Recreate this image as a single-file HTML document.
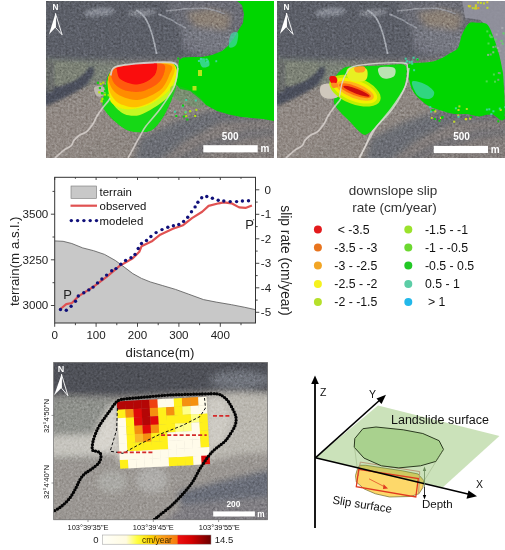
<!DOCTYPE html><html><head><meta charset="utf-8"><style>html,body{margin:0;padding:0;background:#fff;width:505px;height:550px;overflow:hidden;position:relative}</style></head><body><svg style="position:absolute;left:46px;top:1px" width="228" height="157" viewBox="0 0 228 157"><defs><filter id="bla" x="-10%" y="-10%" width="120%" height="120%"><feGaussianBlur stdDeviation="3.2"/></filter><filter id="bsa"><feGaussianBlur stdDeviation="0.7"/></filter><filter id="bma" x="-20%" y="-20%" width="140%" height="140%"><feGaussianBlur stdDeviation="1.4"/></filter><filter id="boa"><feGaussianBlur stdDeviation="0.45"/></filter><filter id="nza" x="0" y="0" width="100%" height="100%" color-interpolation-filters="sRGB"><feTurbulence type="fractalNoise" baseFrequency="0.45" numOctaves="2" seed="3"/><feColorMatrix type="matrix" values="0.33 0.33 0.33 0 0  0.33 0.33 0.33 0 0  0.33 0.33 0.33 0 0  0 0 0 0 1"/></filter></defs><rect x="0" y="0" width="228" height="157" fill="#8e8782"/><g filter="url(#bla)"><path d="M-5 -5 L233 -5 L233 40 L200 50 L185 56 L150 59 L120 60 L90 60 L40 60 L-5 60 Z" fill="#5b5f68"/><path d="M120 0 L150 -2 L233 -5 L233 35 L215 48 L195 55 L170 52 L145 42 L130 22 Z" fill="#6c6d76"/><path d="M140 12 L165 8 L185 14 L182 28 L165 30 L148 24 Z" fill="#8c8176"/><path d="M135 28 L165 26 L190 34 L188 52 L160 55 L138 50 Z" fill="#797a85" opacity=".8"/><path d="M-5 59 L40 60 L80 62 L110 68 L108 80 L80 80 L40 84 L-5 86 Z" fill="#7d8378"/><path d="M-5 108 L40 98 L70 92 L90 98 L85 125 L60 140 L20 157 L-5 160 Z" fill="#918984"/><path d="M88 162 L94 137 L130 120 L161 110 L233 105 L233 118 L175 122 L140 140 L112 162 Z" fill="#6c6e74"/><path d="M112 162 L140 140 L175 122 L233 118 L233 162 Z" fill="#847e7b"/><path d="M120 162 L160 140 L200 128 L233 126 L233 134 L200 138 L160 152 L140 162 Z" fill="#737276"/></g><path d="M-5 85 L14 85 L29 79 L38 72 L43 66 L48 66 L48 73 L41 84 L28 92 L14 99 L0 105 L-5 108 Z" fill="#4b505b" filter="url(#bma)"/><path d="M8 61 L40 62 L42 66 L37 72 L28 79 L14 84 L8 85 Z" fill="#7d8276" filter="url(#bma)"/><path d="M0 60 L8 61 L8 90 L0 92 Z" fill="#696c6a" filter="url(#bma)"/><g filter="url(#bma)" opacity=".8"><path d="M38 11 Q50 5 64 7 Q72 9 66 13 Q52 16 40 15 Z" fill="#91949e"/><path d="M82 11 Q95 6 110 9 Q112 13 100 15 Q88 16 82 14 Z" fill="#8a8d95"/></g><g filter="url(#bsa)"><path d="M90.3 9 Q96 12 99.3 17 Q104 25 106 33 Q109 44 110.6 53" stroke="#a6aab2" stroke-width="1.6" fill="none"/><path d="M112 13 Q125 18 134 24 L140 27" stroke="#9ea1aa" stroke-width="1.5" fill="none" opacity=".8"/><path d="M120.5 10 Q140 7 159 7.3 Q170 9 178.8 12.9" stroke="#9c9fa6" stroke-width="1.5" fill="none" opacity=".8"/><g stroke="#737680" stroke-width="1.2" fill="none" opacity=".3"><path d="M30 20 L40 55"/><path d="M50 18 L62 55"/><path d="M70 20 L80 56"/><path d="M84 22 L92 50"/><path d="M118 25 L128 50"/></g></g><rect x="0" y="0" width="228" height="157" filter="url(#nza)" opacity=".5" style="mix-blend-mode:overlay"/><g filter="url(#boa)"><path d="M61.1 77.2 C59.9 80.7 60.1 85.8 59.3 89.7 C58.6 93.5 57.0 97.4 56.7 100.3 C56.4 103.3 56.2 104.8 57.6 107.5 C58.9 110.1 61.7 113.4 64.7 116.4 C67.7 119.4 72.1 123.3 75.4 125.7 C78.7 128.0 81.0 129.4 84.3 130.3 C87.6 131.2 91.4 131.4 95.0 131.2 C98.6 131.0 102.4 131.1 105.7 129.2 C109.0 127.4 111.9 123.6 114.6 120.0 C117.3 116.3 119.7 111.6 121.7 107.5 C123.8 103.3 125.6 98.9 127.1 95.0 C128.6 91.1 129.8 88.2 130.6 84.3 C131.5 80.4 132.4 75.1 132.4 71.8 C132.4 68.6 131.8 66.3 130.6 64.7 C129.5 63.1 129.2 62.5 125.3 62.0 C121.4 61.6 113.4 61.9 107.5 62.0 C101.5 62.2 95.6 62.3 89.7 62.9 C83.7 63.5 75.7 64.7 71.8 65.6 C68.0 66.5 68.3 66.3 66.5 68.3 C64.7 70.2 62.3 73.6 61.1 77.2 Z" fill="#12d812"/><path d="M62.0 79.0 C61.4 83.1 61.9 88.9 62.9 93.2 C64.0 97.5 66.2 101.8 68.3 104.8 C70.3 107.8 73.0 109.8 75.4 111.4 C77.8 113.0 79.5 113.8 82.5 114.2 C85.5 114.7 89.1 115.4 93.2 114.2 C97.4 113.1 102.7 110.1 107.5 107.1 C112.2 104.1 118.2 99.9 121.7 96.4 C125.3 92.9 127.2 90.2 128.9 86.1 C130.5 82.0 132.1 75.8 131.5 71.8 C130.9 67.8 129.3 63.7 125.3 62.0 C121.3 60.4 113.4 61.9 107.5 62.0 C101.5 62.2 95.6 62.3 89.7 62.9 C83.7 63.5 75.7 64.7 71.8 65.6 C68.0 66.5 68.1 66.0 66.5 68.3 C64.8 70.5 62.6 74.8 62.0 79.0 Z" fill="#c4f820"/><path d="M62.0 79.0 C61.4 82.5 62.5 86.0 62.9 89.7 C63.4 93.3 62.9 97.9 64.7 100.7 C66.5 103.6 70.9 105.5 73.6 106.8 C76.3 108.0 77.8 108.1 80.7 108.2 C83.7 108.3 87.3 108.2 91.4 107.3 C95.6 106.3 100.9 105.0 105.7 102.5 C110.4 100.0 116.4 95.7 120.0 92.3 C123.5 89.0 125.3 86.2 127.1 82.5 C128.9 78.8 130.9 73.5 130.6 70.0 C130.4 66.6 129.2 63.4 125.3 62.0 C121.4 60.7 113.4 61.9 107.5 62.0 C101.5 62.2 95.6 62.3 89.7 62.9 C83.7 63.5 75.7 64.7 71.8 65.6 C68.0 66.5 68.1 66.0 66.5 68.3 C64.8 70.5 62.6 75.4 62.0 79.0 Z" fill="#f2f000"/><path d="M62.0 78.1 C61.4 81.5 61.6 85.0 62.9 88.8 C64.2 92.5 67.1 97.6 70.0 100.3 C73.0 103.1 77.2 104.2 80.7 105.2 C84.3 106.1 87.3 106.8 91.4 106.0 C95.6 105.3 101.2 103.3 105.7 100.7 C110.1 98.1 114.9 94.2 118.2 90.5 C121.4 86.9 123.5 82.7 125.3 79.0 C127.1 75.2 128.9 71.1 128.9 68.3 C128.9 65.4 128.9 63.1 125.3 62.0 C121.7 61.0 113.4 61.9 107.5 62.0 C101.5 62.2 95.6 62.3 89.7 62.9 C83.7 63.5 75.7 64.7 71.8 65.6 C68.0 66.5 68.1 66.2 66.5 68.3 C64.8 70.3 62.6 74.6 62.0 78.1 Z" fill="#ffbf00"/><path d="M62.9 75.4 C62.3 77.5 62.0 78.2 62.9 80.7 C63.8 83.3 65.6 87.9 68.3 90.5 C70.9 93.2 75.1 95.4 79.0 96.8 C82.8 98.2 87.3 99.2 91.4 98.9 C95.6 98.6 99.8 97.0 103.9 95.0 C108.1 93.0 113.1 90.5 116.4 87.0 C119.7 83.4 122.0 77.3 123.5 73.6 C125.0 69.9 128.0 66.6 125.3 64.7 C122.6 62.8 113.4 62.3 107.5 62.0 C101.5 61.7 95.6 62.3 89.7 62.9 C83.7 63.5 75.7 64.7 71.8 65.6 C68.0 66.5 68.0 66.6 66.5 68.3 C65.0 69.9 63.5 73.3 62.9 75.4 Z" fill="#ff8c00"/><path d="M64.7 71.8 C64.4 72.7 64.1 71.8 64.7 73.6 C65.3 75.4 66.2 80.0 68.3 82.5 C70.3 85.0 73.6 87.4 77.2 88.8 C80.7 90.2 85.8 90.8 89.7 90.9 C93.5 91.0 96.5 90.7 100.3 89.1 C104.2 87.6 109.9 84.5 112.8 81.6 C115.8 78.7 117.3 74.8 118.2 71.8 C119.1 68.9 120.0 65.4 118.2 63.8 C116.4 62.2 112.2 62.2 107.5 62.0 C102.7 61.9 95.6 62.3 89.7 62.9 C83.7 63.5 75.7 64.7 71.8 65.6 C68.0 66.5 67.7 67.2 66.5 68.3 C65.3 69.3 65.0 70.9 64.7 71.8 Z" fill="#ff5a0a"/><path d="M70.9 66.5 C67.8 67.4 70.6 66.6 70.9 68.3 C71.2 69.9 71.4 74.2 72.7 76.3 C74.1 78.4 76.1 79.5 79.0 80.7 C81.8 81.9 86.4 83.3 89.7 83.4 C92.9 83.6 95.7 82.8 98.6 81.6 C101.4 80.4 104.7 78.1 106.6 76.3 C108.5 74.5 109.4 73.2 110.1 70.9 C110.9 68.7 111.5 64.4 111.0 62.9 C110.6 61.4 111.0 62.0 107.5 62.0 C103.9 62.0 95.7 62.2 89.7 62.9 C83.6 63.7 74.1 65.6 70.9 66.5 Z" fill="#fa0808"/></g><path d="M64.7 74.5 C65.0 73.5 65.3 69.8 66.5 68.3 C67.7 66.7 68.0 66.0 71.8 65.1 C75.7 64.1 83.7 63.2 89.7 62.6 C95.6 62.0 101.5 61.7 107.5 61.5 C113.4 61.3 121.4 61.0 125.3 61.5 C129.2 62.0 129.8 62.6 131.0 64.3 C132.3 66.1 132.7 69.1 132.8 71.8 C132.9 74.6 131.7 79.3 131.5 80.7" fill="none" stroke="#d4d4d4" stroke-width="1.8" opacity=".9"/><path d="M190.0 -1.0 L196.0 4.0 L198.0 13.0 L197.0 22.0 L192.0 30.0 L188.0 37.0 L182.0 45.0 L176.0 50.0 L166.0 54.0 L156.0 56.0 L146.0 56.0 L137.0 56.5 L133.0 59.0 L132.5 63.0 L132.0 74.0 L130.0 83.0 L134.0 88.0 L144.0 90.0 L154.0 98.0 L160.0 104.0 L171.0 110.0 L183.0 113.5 L194.0 115.8 L206.0 117.0 L217.0 118.0 L228.0 120.0 L228.0 -1.0 Z" fill="#00d600" filter="url(#boa)"/><path d="M126.0 85.0 C129.0 84.0 138.7 86.3 144.0 89.0 C149.3 91.7 156.3 98.0 158.0 101.0 C159.7 104.0 157.2 106.7 154.0 107.0 C150.8 107.3 143.7 105.0 139.0 103.0 C134.3 101.0 128.2 98.0 126.0 95.0 C123.8 92.0 123.0 86.0 126.0 85.0 Z" fill="#50a050" opacity=".3" filter="url(#boa)"/><path d="M154.0 58.0 C155.0 56.8 160.5 57.3 162.0 58.5 C163.5 59.7 164.0 63.8 163.0 65.0 C162.0 66.2 157.5 67.2 156.0 66.0 C154.5 64.8 153.0 59.2 154.0 58.0 Z" fill="#40d8a8" opacity=".8" filter="url(#boa)"/><path d="M185.0 33.0 C186.5 30.7 191.2 30.2 192.0 32.0 C192.8 33.8 191.5 41.7 190.0 44.0 C188.5 46.3 183.8 47.8 183.0 46.0 C182.2 44.2 183.5 35.3 185.0 33.0 Z" fill="#40d8a8" opacity=".7" filter="url(#boa)"/><g fill="#d8e820" opacity=".85"><rect x="152" y="69" width="4" height="6"/><rect x="146.5" y="85" width="4" height="4.5"/></g><path d="M48.0 87.0 C48.5 85.3 52.0 84.8 54.0 85.0 C56.0 85.2 59.3 86.5 60.0 88.0 C60.7 89.5 59.5 92.8 58.0 94.0 C56.5 95.2 52.7 96.2 51.0 95.0 C49.3 93.8 47.5 88.7 48.0 87.0 Z" fill="#c8c4b8" opacity=".8" filter="url(#boa)"/><g opacity="0.9"><rect x="55.4" y="91.2" width="2.2" height="2.2" fill="#08d808"/><rect x="55.4" y="97.1" width="2.2" height="2.2" fill="#08d808"/><rect x="52.2" y="90.2" width="2.2" height="2.2" fill="#b8f000"/><rect x="57.4" y="83.7" width="2.2" height="2.2" fill="#08d808"/><rect x="53.6" y="81.8" width="2.2" height="2.2" fill="#b8f000"/><rect x="57.6" y="91.9" width="2.2" height="2.2" fill="#08d808"/><rect x="61.6" y="93.1" width="2.2" height="2.2" fill="#b8f000"/><rect x="57.8" y="92.5" width="2.2" height="2.2" fill="#b8f000"/><rect x="50.8" y="80.7" width="2.2" height="2.2" fill="#08d808"/><rect x="57.2" y="95.6" width="2.2" height="2.2" fill="#08d808"/><rect x="55.3" y="96.8" width="2.2" height="2.2" fill="#b8f000"/><rect x="52.8" y="85.9" width="2.2" height="2.2" fill="#08d808"/><rect x="57.9" y="89.1" width="2.2" height="2.2" fill="#08d808"/><rect x="54.9" y="91.0" width="2.2" height="2.2" fill="#08d808"/><rect x="58.5" y="86.3" width="2.2" height="2.2" fill="#08d808"/><rect x="56.2" y="80.6" width="2.2" height="2.2" fill="#b8f000"/><rect x="59.2" y="88.0" width="2.2" height="2.2" fill="#08d808"/><rect x="54.6" y="99.2" width="2.2" height="2.2" fill="#b8f000"/></g><g opacity="0.9"><rect x="138.4" y="110.5" width="2.0" height="2.0" fill="#b8f000"/><rect x="135.7" y="104.4" width="2.0" height="2.0" fill="#40d8a8"/><rect x="138.6" y="110.2" width="2.0" height="2.0" fill="#40d8a8"/><rect x="143.2" y="109.2" width="2.0" height="2.0" fill="#b8f000"/><rect x="128.0" y="109.7" width="2.0" height="2.0" fill="#40d8a8"/><rect x="136.1" y="103.5" width="2.0" height="2.0" fill="#00d600"/><rect x="129.3" y="114.0" width="2.0" height="2.0" fill="#00d600"/><rect x="139.3" y="114.0" width="2.0" height="2.0" fill="#b8f000"/><rect x="136.9" y="114.5" width="2.0" height="2.0" fill="#00d600"/><rect x="148.2" y="114.0" width="2.0" height="2.0" fill="#b8f000"/><rect x="139.2" y="98.0" width="2.0" height="2.0" fill="#40d8a8"/><rect x="148.8" y="98.5" width="2.0" height="2.0" fill="#40d8a8"/><rect x="149.4" y="107.9" width="2.0" height="2.0" fill="#b8f000"/><rect x="140.3" y="117.5" width="2.0" height="2.0" fill="#00d600"/></g><g opacity="0.9"><rect x="141.7" y="58.7" width="2.0" height="2.0" fill="#00d600"/><rect x="159.3" y="58.7" width="2.0" height="2.0" fill="#00d600"/><rect x="158.8" y="56.7" width="2.0" height="2.0" fill="#00d600"/><rect x="153.9" y="56.9" width="2.0" height="2.0" fill="#40d8a8"/><rect x="131.3" y="56.5" width="2.0" height="2.0" fill="#00d600"/><rect x="174.7" y="59.3" width="2.0" height="2.0" fill="#00d600"/><rect x="169.2" y="59.2" width="2.0" height="2.0" fill="#40d8a8"/><rect x="167.2" y="59.0" width="2.0" height="2.0" fill="#00d600"/><rect x="165.7" y="57.0" width="2.0" height="2.0" fill="#00d600"/><rect x="151.9" y="59.0" width="2.0" height="2.0" fill="#40d8a8"/><rect x="160.2" y="59.6" width="2.0" height="2.0" fill="#40d8a8"/><rect x="159.5" y="57.4" width="2.0" height="2.0" fill="#40d8a8"/></g><path d="M64.0 97.0 C63.7 97.5 63.5 98.5 62.1 100.3 C60.7 102.1 57.7 105.4 55.8 107.9 C53.9 110.4 52.2 113.0 50.7 115.5 C49.2 118.0 48.6 120.6 46.9 123.1 C45.2 125.6 42.9 128.8 40.6 130.7 C38.3 132.6 35.1 133.0 33.0 134.5 C30.9 136.0 29.2 137.9 27.9 139.6 C26.6 141.3 26.8 143.1 25.3 144.6 C23.8 146.1 21.1 146.9 19.0 148.4 C16.9 149.9 14.4 152.1 12.7 153.5 C11.0 154.9 9.6 156.4 9.0 157.0" fill="none" stroke="#dcd6d2" stroke-width="1.7" opacity=".8"/><path d="M132.0 67.0 C131.3 70.2 131.0 79.2 128.0 86.0 C125.0 92.8 118.7 101.5 114.0 108.0 C109.3 114.5 103.3 120.5 100.0 125.0 C96.7 129.5 96.0 131.5 94.0 135.0 C92.0 138.5 90.0 142.3 88.0 146.0 C86.0 149.7 83.0 155.2 82.0 157.0" fill="none" stroke="#dcd6d2" stroke-width="1.6" opacity=".8"/><text x="9.5" y="9.3" font-family='Liberation Sans' font-size="8.2" font-weight="bold" fill="#fff" text-anchor="middle">N</text><path d="M9.5 12.5 L2.9 33.5 L9.5 26.5 Z" fill="#fff"/><path d="M9.5 12.5 L16.1 33.8 L9.5 26.5 Z" fill="none" stroke="#fff" stroke-width="0.9"/><rect x="157.3" y="144.2" width="54.4" height="7.2" fill="#fff"/><text x="184.2" y="139.3" font-family='Liberation Sans' font-size="10" font-weight="bold" fill="#fff" text-anchor="middle">500</text><text x="214.5" y="151.2" font-family='Liberation Sans' font-size="10" font-weight="bold" fill="#fff">m</text></svg><svg style="position:absolute;left:277px;top:1.3px" width="228" height="157" viewBox="0 0 228 157"><defs><filter id="blb" x="-10%" y="-10%" width="120%" height="120%"><feGaussianBlur stdDeviation="3.2"/></filter><filter id="bsb"><feGaussianBlur stdDeviation="0.7"/></filter><filter id="bmb" x="-20%" y="-20%" width="140%" height="140%"><feGaussianBlur stdDeviation="1.4"/></filter><filter id="bob"><feGaussianBlur stdDeviation="0.45"/></filter><filter id="nzb" x="0" y="0" width="100%" height="100%" color-interpolation-filters="sRGB"><feTurbulence type="fractalNoise" baseFrequency="0.45" numOctaves="2" seed="3"/><feColorMatrix type="matrix" values="0.33 0.33 0.33 0 0  0.33 0.33 0.33 0 0  0.33 0.33 0.33 0 0  0 0 0 0 1"/></filter></defs><rect x="0" y="0" width="228" height="157" fill="#8e8782"/><g filter="url(#blb)"><path d="M-5 -5 L233 -5 L233 40 L200 50 L185 56 L150 59 L120 60 L90 60 L40 60 L-5 60 Z" fill="#5b5f68"/><path d="M120 0 L150 -2 L233 -5 L233 35 L215 48 L195 55 L170 52 L145 42 L130 22 Z" fill="#6c6d76"/><path d="M140 12 L165 8 L185 14 L182 28 L165 30 L148 24 Z" fill="#8c8176"/><path d="M135 28 L165 26 L190 34 L188 52 L160 55 L138 50 Z" fill="#797a85" opacity=".8"/><path d="M-5 59 L40 60 L80 62 L110 68 L108 80 L80 80 L40 84 L-5 86 Z" fill="#7d8378"/><path d="M-5 108 L40 98 L70 92 L90 98 L85 125 L60 140 L20 157 L-5 160 Z" fill="#918984"/><path d="M88 162 L94 137 L130 120 L161 110 L233 105 L233 118 L175 122 L140 140 L112 162 Z" fill="#6c6e74"/><path d="M112 162 L140 140 L175 122 L233 118 L233 162 Z" fill="#847e7b"/><path d="M120 162 L160 140 L200 128 L233 126 L233 134 L200 138 L160 152 L140 162 Z" fill="#737276"/></g><path d="M-5 85 L14 85 L29 79 L38 72 L43 66 L48 66 L48 73 L41 84 L28 92 L14 99 L0 105 L-5 108 Z" fill="#4b505b" filter="url(#bmb)"/><path d="M8 61 L40 62 L42 66 L37 72 L28 79 L14 84 L8 85 Z" fill="#7d8276" filter="url(#bmb)"/><path d="M0 60 L8 61 L8 90 L0 92 Z" fill="#696c6a" filter="url(#bmb)"/><g filter="url(#bmb)" opacity=".8"><path d="M38 11 Q50 5 64 7 Q72 9 66 13 Q52 16 40 15 Z" fill="#91949e"/><path d="M82 11 Q95 6 110 9 Q112 13 100 15 Q88 16 82 14 Z" fill="#8a8d95"/></g><g filter="url(#bsb)"><path d="M90.3 9 Q96 12 99.3 17 Q104 25 106 33 Q109 44 110.6 53" stroke="#a6aab2" stroke-width="1.6" fill="none"/><path d="M112 13 Q125 18 134 24 L140 27" stroke="#9ea1aa" stroke-width="1.5" fill="none" opacity=".8"/><path d="M120.5 10 Q140 7 159 7.3 Q170 9 178.8 12.9" stroke="#9c9fa6" stroke-width="1.5" fill="none" opacity=".8"/><g stroke="#737680" stroke-width="1.2" fill="none" opacity=".3"><path d="M30 20 L40 55"/><path d="M50 18 L62 55"/><path d="M70 20 L80 56"/><path d="M84 22 L92 50"/><path d="M118 25 L128 50"/></g></g><rect x="0" y="0" width="228" height="157" filter="url(#nzb)" opacity=".5" style="mix-blend-mode:overlay"/><path d="M185.0 -1.3 L228.0 -1.3 L228.0 88.7 L221.0 58.7 L213.0 28.7 L203.0 18.7 L188.0 16.7 Z" fill="#9696a2" opacity=".85" filter="url(#bob)"/><path d="M192.0 22.2 C194.5 20.2 197.3 21.7 200.0 21.7 C202.7 21.7 206.0 21.5 208.0 22.2 C210.0 22.9 210.8 23.8 212.0 25.7 C213.2 27.6 214.3 30.8 215.5 33.7 C216.7 36.6 217.8 39.7 219.0 43.3 C220.2 46.9 221.5 51.2 222.5 55.1 C223.5 59.0 224.3 63.0 225.0 66.9 C225.7 70.8 226.2 70.2 226.5 78.7 C226.8 87.2 229.0 112.0 227.0 117.7 C225.0 123.4 218.6 113.4 214.4 113.0 C210.2 112.6 206.1 115.4 202.0 115.4 C197.9 115.4 193.7 113.4 189.6 113.0 C185.5 112.6 181.0 113.4 177.3 113.0 C173.6 112.6 171.5 111.8 167.4 110.5 C163.3 109.2 156.6 107.6 152.5 105.5 C148.4 103.4 145.5 101.0 142.6 98.1 C139.7 95.2 136.8 91.9 135.0 88.2 C133.2 84.5 132.2 79.0 131.5 75.7 C130.8 72.5 130.2 70.9 130.5 68.7 C130.8 66.5 128.6 64.1 133.0 62.7 C137.4 61.3 150.3 62.0 157.0 60.2 C163.7 58.5 169.0 54.5 173.0 52.2 C177.0 50.0 179.0 49.8 181.0 46.7 C183.0 43.6 183.2 37.8 185.0 33.7 C186.8 29.6 189.5 24.2 192.0 22.2 Z" fill="#00d600" filter="url(#bob)"/><g opacity="0.75"><rect x="220.8" y="71.0" width="2.0" height="2.0" fill="#9a9aa2"/><rect x="211.9" y="33.4" width="2.0" height="2.0" fill="#9a9aa2"/><rect x="220.1" y="29.1" width="2.0" height="2.0" fill="#9a9aa2"/><rect x="222.5" y="39.9" width="2.0" height="2.0" fill="#9a9aa2"/><rect x="215.9" y="72.5" width="2.0" height="2.0" fill="#60e060"/><rect x="210.1" y="52.9" width="2.0" height="2.0" fill="#b0b0b4"/><rect x="221.3" y="48.9" width="2.0" height="2.0" fill="#b0b0b4"/><rect x="217.0" y="79.7" width="2.0" height="2.0" fill="#60e060"/><rect x="221.7" y="71.2" width="2.0" height="2.0" fill="#9a9aa2"/><rect x="220.3" y="77.8" width="2.0" height="2.0" fill="#9a9aa2"/><rect x="217.8" y="44.6" width="2.0" height="2.0" fill="#9a9aa2"/><rect x="224.6" y="41.7" width="2.0" height="2.0" fill="#60e060"/><rect x="209.3" y="29.4" width="2.0" height="2.0" fill="#60e060"/><rect x="218.7" y="32.6" width="2.0" height="2.0" fill="#b0b0b4"/><rect x="223.5" y="38.9" width="2.0" height="2.0" fill="#60e060"/><rect x="212.9" y="35.1" width="2.0" height="2.0" fill="#60e060"/><rect x="216.9" y="32.6" width="2.0" height="2.0" fill="#9a9aa2"/><rect x="213.8" y="35.1" width="2.0" height="2.0" fill="#60e060"/><rect x="225.5" y="31.4" width="2.0" height="2.0" fill="#60e060"/><rect x="212.7" y="52.5" width="2.0" height="2.0" fill="#9a9aa2"/><rect x="217.6" y="37.6" width="2.0" height="2.0" fill="#60e060"/><rect x="210.5" y="41.5" width="2.0" height="2.0" fill="#60e060"/><rect x="219.7" y="45.9" width="2.0" height="2.0" fill="#b0b0b4"/><rect x="215.3" y="50.3" width="2.0" height="2.0" fill="#b0b0b4"/><rect x="212.5" y="34.4" width="2.0" height="2.0" fill="#60e060"/><rect x="222.9" y="43.1" width="2.0" height="2.0" fill="#9a9aa2"/><rect x="224.3" y="25.9" width="2.0" height="2.0" fill="#b0b0b4"/><rect x="220.7" y="48.6" width="2.0" height="2.0" fill="#9a9aa2"/><rect x="208.7" y="79.4" width="2.0" height="2.0" fill="#60e060"/><rect x="215.4" y="45.1" width="2.0" height="2.0" fill="#b0b0b4"/></g><path d="M135.0 80.7 C136.0 78.7 143.3 81.0 147.0 82.7 C150.7 84.4 156.0 88.2 157.0 90.7 C158.0 93.2 155.7 97.0 153.0 97.7 C150.3 98.4 144.0 97.5 141.0 94.7 C138.0 91.9 134.0 82.7 135.0 80.7 Z" fill="#3cd6a0" opacity=".8" filter="url(#bob)"/><g opacity="0.9"><rect x="164.5" y="115.0" width="2.0" height="2.0" fill="#00d600"/><rect x="188.4" y="107.5" width="2.0" height="2.0" fill="#00d600"/><rect x="213.4" y="112.2" width="2.0" height="2.0" fill="#40d8a8"/><rect x="192.1" y="116.6" width="2.0" height="2.0" fill="#c8e020"/><rect x="180.2" y="113.4" width="2.0" height="2.0" fill="#c8e020"/><rect x="163.0" y="116.0" width="2.0" height="2.0" fill="#e0e020"/><rect x="204.7" y="111.0" width="2.0" height="2.0" fill="#00d600"/><rect x="198.8" y="104.5" width="2.0" height="2.0" fill="#00d600"/><rect x="193.1" y="115.1" width="2.0" height="2.0" fill="#00d600"/><rect x="153.8" y="115.9" width="2.0" height="2.0" fill="#c8e020"/><rect x="161.5" y="118.8" width="2.0" height="2.0" fill="#00d600"/><rect x="164.2" y="115.7" width="2.0" height="2.0" fill="#00d600"/><rect x="188.8" y="107.0" width="2.0" height="2.0" fill="#c8e020"/><rect x="187.7" y="117.1" width="2.0" height="2.0" fill="#c8e020"/><rect x="211.3" y="107.3" width="2.0" height="2.0" fill="#40d8a8"/><rect x="227.2" y="105.1" width="2.0" height="2.0" fill="#40d8a8"/><rect x="188.2" y="117.2" width="2.0" height="2.0" fill="#e0e020"/><rect x="177.9" y="106.3" width="2.0" height="2.0" fill="#40d8a8"/><rect x="183.1" y="109.8" width="2.0" height="2.0" fill="#00d600"/><rect x="190.1" y="109.1" width="2.0" height="2.0" fill="#00d600"/><rect x="181.4" y="104.4" width="2.0" height="2.0" fill="#c8e020"/><rect x="164.1" y="115.5" width="2.0" height="2.0" fill="#00d600"/><rect x="152.2" y="105.1" width="2.0" height="2.0" fill="#40d8a8"/><rect x="208.9" y="107.6" width="2.0" height="2.0" fill="#40d8a8"/><rect x="176.2" y="119.7" width="2.0" height="2.0" fill="#c8e020"/><rect x="165.7" y="106.7" width="2.0" height="2.0" fill="#00d600"/><rect x="215.4" y="109.3" width="2.0" height="2.0" fill="#40d8a8"/><rect x="222.7" y="107.9" width="2.0" height="2.0" fill="#e0e020"/><rect x="157.0" y="117.0" width="2.0" height="2.0" fill="#00d600"/><rect x="180.5" y="114.9" width="2.0" height="2.0" fill="#40d8a8"/><rect x="220.3" y="119.3" width="2.0" height="2.0" fill="#00d600"/><rect x="221.8" y="106.6" width="2.0" height="2.0" fill="#40d8a8"/><rect x="153.1" y="109.5" width="2.0" height="2.0" fill="#40d8a8"/><rect x="180.5" y="108.0" width="2.0" height="2.0" fill="#e0e020"/><rect x="164.3" y="105.1" width="2.0" height="2.0" fill="#00d600"/><rect x="210.8" y="111.7" width="2.0" height="2.0" fill="#00d600"/><rect x="156.0" y="108.1" width="2.0" height="2.0" fill="#00d600"/><rect x="154.6" y="108.0" width="2.0" height="2.0" fill="#00d600"/><rect x="157.3" y="109.4" width="2.0" height="2.0" fill="#e0e020"/><rect x="226.7" y="115.9" width="2.0" height="2.0" fill="#00d600"/></g><g opacity="0.9"><rect x="139.4" y="57.1" width="2.0" height="2.0" fill="#40d8a8"/><rect x="134.2" y="61.7" width="2.0" height="2.0" fill="#40d8a8"/><rect x="136.1" y="68.2" width="2.0" height="2.0" fill="#40d8a8"/><rect x="128.5" y="69.4" width="2.0" height="2.0" fill="#00d600"/><rect x="139.6" y="57.7" width="2.0" height="2.0" fill="#00d600"/><rect x="135.6" y="55.7" width="2.0" height="2.0" fill="#40d8a8"/><rect x="133.8" y="59.7" width="2.0" height="2.0" fill="#40d8a8"/><rect x="127.7" y="56.7" width="2.0" height="2.0" fill="#40d8a8"/><rect x="135.5" y="64.2" width="2.0" height="2.0" fill="#00d600"/><rect x="127.8" y="60.9" width="2.0" height="2.0" fill="#40d8a8"/><rect x="129.2" y="59.1" width="2.0" height="2.0" fill="#40d8a8"/><rect x="131.5" y="60.1" width="2.0" height="2.0" fill="#40d8a8"/></g><path d="M67.3 66.7 C71.6 64.5 76.4 66.0 82.6 65.7 C88.8 65.4 97.2 65.0 104.4 64.6 C111.6 64.2 121.8 62.4 126.0 63.5 C130.2 64.6 129.4 66.6 129.4 71.1 C129.4 75.6 128.4 84.5 126.0 90.7 C123.6 96.9 119.0 102.8 115.0 108.2 C111.0 113.7 106.0 119.4 102.0 123.4 C98.0 127.4 94.1 130.6 91.3 132.2 C88.5 133.8 88.0 134.6 85.0 132.7 C82.0 130.8 76.7 124.4 73.0 120.7 C69.3 117.0 65.7 113.9 63.0 110.7 C60.3 107.5 57.7 105.0 57.0 101.7 C56.3 98.4 59.0 94.5 59.0 90.7 C59.0 86.9 55.6 82.7 57.0 78.7 C58.4 74.7 63.0 68.9 67.3 66.7 Z" fill="#08d808" filter="url(#bob)"/><path d="M44.0 84.7 C45.5 82.9 50.2 82.4 53.0 82.7 C55.8 83.0 59.7 84.5 61.0 86.7 C62.3 88.9 62.7 93.9 61.0 95.7 C59.3 97.5 53.8 98.0 51.0 97.7 C48.2 97.4 45.2 95.9 44.0 93.7 C42.8 91.5 42.5 86.5 44.0 84.7 Z" fill="#cfc8bc" filter="url(#bob)"/><g filter="url(#bob)"><ellipse cx="78.0" cy="89.7" rx="27.0" ry="13.5" fill="#bff000" transform="rotate(21 78.0 89.7)"/><ellipse cx="78.0" cy="89.7" rx="23.5" ry="10.5" fill="#f4f000" transform="rotate(21 78.0 89.7)"/><ellipse cx="78.0" cy="89.7" rx="20.0" ry="7.5" fill="#ffb21a" transform="rotate(21 78.0 89.7)"/><ellipse cx="78.0" cy="89.7" rx="17.0" ry="4.6" fill="#ff6a10" transform="rotate(21 78.0 89.7)"/><ellipse cx="79.5" cy="89.7" rx="14.0" ry="2.4" fill="#cc0a0a" transform="rotate(21 78.0 89.7)"/></g><path d="M70.7 67.7 C72.7 66.0 79.8 66.0 83.0 66.2 C86.2 66.4 89.0 66.6 90.0 68.7 C91.0 70.8 91.0 76.7 89.0 78.7 C87.0 80.7 81.0 81.0 78.0 80.7 C75.0 80.4 72.2 78.9 71.0 76.7 C69.8 74.5 68.7 69.5 70.7 67.7 Z" fill="#e8f020" filter="url(#bob)"/><path d="M77.7 66.2 C79.1 65.3 85.8 65.0 87.4 65.7 C88.9 66.5 88.4 69.8 87.0 70.7 C85.6 71.6 80.5 72.0 79.0 71.2 C77.5 70.5 76.3 67.1 77.7 66.2 Z" fill="#ffa020" filter="url(#bob)"/><path d="M52.7 75.7 C53.4 74.6 56.7 74.8 58.0 75.3 C59.3 75.8 60.1 77.5 60.3 78.7 C60.5 79.9 60.1 81.8 59.0 82.3 C57.9 82.8 55.1 82.8 54.0 81.7 C52.9 80.6 52.0 76.8 52.7 75.7 Z" fill="#f01010" filter="url(#bob)"/><path d="M54.0 82.2 C54.7 81.5 58.8 81.7 60.0 82.3 C61.2 82.9 61.7 85.0 61.0 85.7 C60.3 86.4 57.2 87.3 56.0 86.7 C54.8 86.1 53.3 82.9 54.0 82.2 Z" fill="#ff8a20" filter="url(#bob)"/><path d="M102.0 66.7 C104.3 65.4 114.4 65.4 117.0 66.7 C119.6 68.0 118.7 72.9 117.4 74.7 C116.1 76.5 111.4 77.7 109.0 77.7 C106.6 77.7 104.2 76.5 103.0 74.7 C101.8 72.9 99.7 68.0 102.0 66.7 Z" fill="#e6e6dc" opacity=".8" filter="url(#bob)"/><path d="M62.5 95.7 C62.9 93.4 63.9 85.9 65.1 82.0 C66.3 78.1 67.7 74.9 69.5 72.2 C71.3 69.5 70.9 67.3 76.0 65.7 C81.1 64.1 91.6 63.0 100.0 62.4 C108.4 61.8 121.0 61.3 126.1 62.0 C131.2 62.7 130.1 63.0 130.5 66.7 C130.9 70.4 131.3 77.3 128.8 84.2 C126.3 91.1 120.8 100.6 115.3 108.2 C109.8 115.8 100.0 124.1 95.6 130.0 C91.2 135.9 91.2 139.2 89.1 143.7 C87.0 148.1 84.0 154.5 83.0 156.7" fill="none" stroke="#d8d8d0" stroke-width="1.3" opacity=".9"/><g opacity="0.9"><rect x="198.3" y="6.5" width="2.0" height="2.0" fill="#e0d020"/><rect x="194.7" y="6.1" width="2.0" height="2.0" fill="#c8e020"/><rect x="200.4" y="6.0" width="2.0" height="2.0" fill="#f0a020"/><rect x="190.8" y="4.0" width="2.0" height="2.0" fill="#e0d020"/><rect x="202.9" y="0.9" width="2.0" height="2.0" fill="#c8e020"/><rect x="206.0" y="1.4" width="2.0" height="2.0" fill="#c8e020"/><rect x="196.9" y="6.4" width="2.0" height="2.0" fill="#c8e020"/><rect x="197.9" y="3.3" width="2.0" height="2.0" fill="#e0d020"/><rect x="209.4" y="5.8" width="2.0" height="2.0" fill="#c8e020"/><rect x="192.2" y="4.1" width="2.0" height="2.0" fill="#f0a020"/><rect x="197.8" y="4.7" width="2.0" height="2.0" fill="#c8e020"/><rect x="200.1" y="0.5" width="2.0" height="2.0" fill="#c8e020"/><rect x="191.5" y="4.5" width="2.0" height="2.0" fill="#c8e020"/><rect x="209.3" y="0.3" width="2.0" height="2.0" fill="#e0d020"/></g><path d="M64.0 97.0 C63.7 97.5 63.5 98.5 62.1 100.3 C60.7 102.1 57.7 105.4 55.8 107.9 C53.9 110.4 52.2 113.0 50.7 115.5 C49.2 118.0 48.6 120.6 46.9 123.1 C45.2 125.6 42.9 128.8 40.6 130.7 C38.3 132.6 35.1 133.0 33.0 134.5 C30.9 136.0 29.2 137.9 27.9 139.6 C26.6 141.3 26.8 143.1 25.3 144.6 C23.8 146.1 21.1 146.9 19.0 148.4 C16.9 149.9 14.4 152.1 12.7 153.5 C11.0 154.9 9.6 156.4 9.0 157.0" fill="none" stroke="#dcd6d2" stroke-width="1.7" opacity=".8"/><path d="M132.0 67.0 C131.3 70.2 131.0 79.2 128.0 86.0 C125.0 92.8 118.7 101.5 114.0 108.0 C109.3 114.5 103.3 120.5 100.0 125.0 C96.7 129.5 96.0 131.5 94.0 135.0 C92.0 138.5 90.0 142.3 88.0 146.0 C86.0 149.7 83.0 155.2 82.0 157.0" fill="none" stroke="#dcd6d2" stroke-width="1.6" opacity=".8"/><text x="9.5" y="8.9" font-family='Liberation Sans' font-size="8.2" font-weight="bold" fill="#fff" text-anchor="middle">N</text><path d="M9.5 12.1 L2.9 33.1 L9.5 26.1 Z" fill="#fff"/><path d="M9.5 12.1 L16.1 33.4 L9.5 26.1 Z" fill="none" stroke="#fff" stroke-width="0.9"/><rect x="156.7" y="144.9" width="54.3" height="7.2" fill="#fff"/><text x="184.5" y="139.3" font-family='Liberation Sans' font-size="10" font-weight="bold" fill="#fff" text-anchor="middle">500</text><text x="213.8" y="151.9" font-family='Liberation Sans' font-size="10" font-weight="bold" fill="#fff">m</text></svg><svg style="position:absolute;left:0;top:0" width="505" height="550" viewBox="0 0 505 550"><polygon points="54.8,240.9 63.1,241.3 71.8,243.5 82.7,247.9 93.6,250.7 104.5,254.4 115.4,260.5 124.1,267.0 132.8,273.6 141.5,278.4 150.2,281.9 162.7,285.6 175.5,289.4 188.2,294.0 203.5,299.6 216.2,302.1 231.5,304.7 244.2,307.2 255.3,309.6 255.3,323 54.8,323" fill="#c8c8c8"/><polyline points="54.8,240.9 63.1,241.3 71.8,243.5 82.7,247.9 93.6,250.7 104.5,254.4 115.4,260.5 124.1,267.0 132.8,273.6 141.5,278.4 150.2,281.9 162.7,285.6 175.5,289.4 188.2,294.0 203.5,299.6 216.2,302.1 231.5,304.7 244.2,307.2 255.3,309.6" fill="none" stroke="#555" stroke-width="0.8"/><polyline points="59.8,309.5 66.3,304.1 71.8,303.0 78.3,296.4 93.6,286.6 106.6,276.8 119.7,265.9 132.8,258.3 139.3,251.8 141.5,246.3 152.4,240.9 160.2,234.7 172.9,228.8 183.1,225.2 192.0,218.1 202.2,211.7 208.6,205.9 218.8,203.3 223.9,202.3 231.5,203.3 239.1,207.4 245.5,207.9 251.9,205.4" fill="none" stroke="#e05252" stroke-width="2.2" stroke-linejoin="round"/><circle cx="60.5" cy="309.5" r="1.7" fill="#10107a"/><circle cx="66.3" cy="310.2" r="1.7" fill="#10107a"/><circle cx="71.1" cy="306.3" r="1.7" fill="#10107a"/><circle cx="75.5" cy="301.2" r="1.7" fill="#10107a"/><circle cx="78.3" cy="296.0" r="1.7" fill="#10107a"/><circle cx="83.8" cy="292.7" r="1.7" fill="#10107a"/><circle cx="88.8" cy="289.9" r="1.7" fill="#10107a"/><circle cx="93.1" cy="287.1" r="1.7" fill="#10107a"/><circle cx="97.5" cy="282.9" r="1.7" fill="#10107a"/><circle cx="101.9" cy="279.0" r="1.7" fill="#10107a"/><circle cx="106.6" cy="275.1" r="1.7" fill="#10107a"/><circle cx="111.7" cy="270.7" r="1.7" fill="#10107a"/><circle cx="116.0" cy="268.6" r="1.7" fill="#10107a"/><circle cx="120.8" cy="264.2" r="1.7" fill="#10107a"/><circle cx="125.6" cy="260.5" r="1.7" fill="#10107a"/><circle cx="131.0" cy="257.7" r="1.7" fill="#10107a"/><circle cx="135.0" cy="254.4" r="1.7" fill="#10107a"/><circle cx="138.2" cy="248.5" r="1.7" fill="#10107a"/><circle cx="141.5" cy="243.5" r="1.7" fill="#10107a"/><circle cx="146.5" cy="240.5" r="1.7" fill="#10107a"/><circle cx="150.9" cy="236.5" r="1.7" fill="#10107a"/><circle cx="156.1" cy="232.6" r="1.7" fill="#10107a"/><circle cx="162.0" cy="229.6" r="1.7" fill="#10107a"/><circle cx="167.8" cy="227.3" r="1.7" fill="#10107a"/><circle cx="173.4" cy="225.7" r="1.7" fill="#10107a"/><circle cx="178.8" cy="224.5" r="1.7" fill="#10107a"/><circle cx="183.6" cy="221.4" r="1.7" fill="#10107a"/><circle cx="187.7" cy="217.3" r="1.7" fill="#10107a"/><circle cx="191.5" cy="211.7" r="1.7" fill="#10107a"/><circle cx="195.1" cy="206.9" r="1.7" fill="#10107a"/><circle cx="197.9" cy="202.3" r="1.7" fill="#10107a"/><circle cx="201.7" cy="197.7" r="1.7" fill="#10107a"/><circle cx="206.8" cy="196.5" r="1.7" fill="#10107a"/><circle cx="212.4" cy="198.2" r="1.7" fill="#10107a"/><circle cx="218.2" cy="200.3" r="1.7" fill="#10107a"/><circle cx="223.8" cy="201.0" r="1.7" fill="#10107a"/><circle cx="230.2" cy="201.6" r="1.7" fill="#10107a"/><circle cx="236.6" cy="201.6" r="1.7" fill="#10107a"/><circle cx="242.4" cy="201.0" r="1.7" fill="#10107a"/><circle cx="248.5" cy="200.8" r="1.7" fill="#10107a"/><rect x="54.7" y="177.3" width="200.8" height="145.7" fill="none" stroke="#333" stroke-width="1"/><line x1="54.7" y1="323" x2="54.7" y2="326.8" stroke="#333" stroke-width="0.9"/><line x1="54.7" y1="177.3" x2="54.7" y2="180.0" stroke="#333" stroke-width="0.9"/><text x="54.7" y="339.2" font-family='Liberation Sans' font-size="11.6" fill="#222" text-anchor="middle">0</text><line x1="75.4" y1="323" x2="75.4" y2="325.2" stroke="#333" stroke-width="0.9"/><line x1="75.4" y1="177.3" x2="75.4" y2="178.8" stroke="#333" stroke-width="0.9"/><line x1="96.1" y1="323" x2="96.1" y2="326.8" stroke="#333" stroke-width="0.9"/><line x1="96.1" y1="177.3" x2="96.1" y2="180.0" stroke="#333" stroke-width="0.9"/><text x="96.1" y="339.2" font-family='Liberation Sans' font-size="11.6" fill="#222" text-anchor="middle">100</text><line x1="116.8" y1="323" x2="116.8" y2="325.2" stroke="#333" stroke-width="0.9"/><line x1="116.8" y1="177.3" x2="116.8" y2="178.8" stroke="#333" stroke-width="0.9"/><line x1="137.5" y1="323" x2="137.5" y2="326.8" stroke="#333" stroke-width="0.9"/><line x1="137.5" y1="177.3" x2="137.5" y2="180.0" stroke="#333" stroke-width="0.9"/><text x="137.5" y="339.2" font-family='Liberation Sans' font-size="11.6" fill="#222" text-anchor="middle">200</text><line x1="158.2" y1="323" x2="158.2" y2="325.2" stroke="#333" stroke-width="0.9"/><line x1="158.2" y1="177.3" x2="158.2" y2="178.8" stroke="#333" stroke-width="0.9"/><line x1="178.9" y1="323" x2="178.9" y2="326.8" stroke="#333" stroke-width="0.9"/><line x1="178.9" y1="177.3" x2="178.9" y2="180.0" stroke="#333" stroke-width="0.9"/><text x="178.9" y="339.2" font-family='Liberation Sans' font-size="11.6" fill="#222" text-anchor="middle">300</text><line x1="199.6" y1="323" x2="199.6" y2="325.2" stroke="#333" stroke-width="0.9"/><line x1="199.6" y1="177.3" x2="199.6" y2="178.8" stroke="#333" stroke-width="0.9"/><line x1="220.3" y1="323" x2="220.3" y2="326.8" stroke="#333" stroke-width="0.9"/><line x1="220.3" y1="177.3" x2="220.3" y2="180.0" stroke="#333" stroke-width="0.9"/><text x="220.3" y="339.2" font-family='Liberation Sans' font-size="11.6" fill="#222" text-anchor="middle">400</text><line x1="241.0" y1="323" x2="241.0" y2="325.2" stroke="#333" stroke-width="0.9"/><line x1="241.0" y1="177.3" x2="241.0" y2="178.8" stroke="#333" stroke-width="0.9"/><line x1="54.7" y1="305.5" x2="50.9" y2="305.5" stroke="#333" stroke-width="0.9"/><text x="48.3" y="309.4" font-family='Liberation Sans' font-size="11.6" fill="#222" text-anchor="end">3000</text><line x1="54.7" y1="282.7" x2="52.5" y2="282.7" stroke="#333" stroke-width="0.9"/><line x1="54.7" y1="259.8" x2="50.9" y2="259.8" stroke="#333" stroke-width="0.9"/><text x="48.3" y="263.7" font-family='Liberation Sans' font-size="11.6" fill="#222" text-anchor="end">3250</text><line x1="54.7" y1="237.0" x2="52.5" y2="237.0" stroke="#333" stroke-width="0.9"/><line x1="54.7" y1="214.2" x2="50.9" y2="214.2" stroke="#333" stroke-width="0.9"/><text x="48.3" y="218.1" font-family='Liberation Sans' font-size="11.6" fill="#222" text-anchor="end">3500</text><line x1="54.7" y1="191.4" x2="52.5" y2="191.4" stroke="#333" stroke-width="0.9"/><line x1="255.5" y1="189.8" x2="259.3" y2="189.8" stroke="#333" stroke-width="0.9"/><text x="264.6" y="193.7" font-family='Liberation Sans' font-size="11.6" fill="#222">0</text><line x1="255.5" y1="202.1" x2="257.7" y2="202.1" stroke="#333" stroke-width="0.9"/><line x1="255.5" y1="214.3" x2="259.3" y2="214.3" stroke="#333" stroke-width="0.9"/><text x="260.8" y="218.2" font-family='Liberation Sans' font-size="11.6" fill="#222">-1</text><line x1="255.5" y1="226.6" x2="257.7" y2="226.6" stroke="#333" stroke-width="0.9"/><line x1="255.5" y1="238.8" x2="259.3" y2="238.8" stroke="#333" stroke-width="0.9"/><text x="260.8" y="242.7" font-family='Liberation Sans' font-size="11.6" fill="#222">-2</text><line x1="255.5" y1="251.1" x2="257.7" y2="251.1" stroke="#333" stroke-width="0.9"/><line x1="255.5" y1="263.3" x2="259.3" y2="263.3" stroke="#333" stroke-width="0.9"/><text x="260.8" y="267.2" font-family='Liberation Sans' font-size="11.6" fill="#222">-3</text><line x1="255.5" y1="275.6" x2="257.7" y2="275.6" stroke="#333" stroke-width="0.9"/><line x1="255.5" y1="287.8" x2="259.3" y2="287.8" stroke="#333" stroke-width="0.9"/><text x="260.8" y="291.7" font-family='Liberation Sans' font-size="11.6" fill="#222">-4</text><line x1="255.5" y1="300.1" x2="257.7" y2="300.1" stroke="#333" stroke-width="0.9"/><line x1="255.5" y1="312.3" x2="259.3" y2="312.3" stroke="#333" stroke-width="0.9"/><text x="260.8" y="316.2" font-family='Liberation Sans' font-size="11.6" fill="#222">-5</text><text x="160" y="357" font-family='Liberation Sans' font-size="13.2" fill="#222" text-anchor="middle">distance(m)</text><text transform="translate(18.6,261.3) rotate(-90)" font-family='Liberation Sans' font-size="13.3" fill="#222" text-anchor="middle">terrain(m a.s.l.)</text><text transform="translate(281,205.3) rotate(90)" font-family='Liberation Sans' font-size="13.8" fill="#222">slip rate (cm/year)</text><rect x="71" y="186" width="25.6" height="12.4" fill="#c8c8c8" stroke="#777" stroke-width="0.6"/><line x1="70.5" y1="205.7" x2="97" y2="205.7" stroke="#e05252" stroke-width="2.2"/><circle cx="71.3" cy="220.6" r="1.7" fill="#10107a"/><circle cx="77.6" cy="220.6" r="1.7" fill="#10107a"/><circle cx="83.9" cy="220.6" r="1.7" fill="#10107a"/><circle cx="90.2" cy="220.6" r="1.7" fill="#10107a"/><circle cx="96.5" cy="220.6" r="1.7" fill="#10107a"/><text x="99.6" y="196.3" font-family='Liberation Sans' font-size="11.4" fill="#111">terrain</text><text x="99.6" y="210" font-family='Liberation Sans' font-size="11.4" fill="#111">observed</text><text x="99.6" y="224.5" font-family='Liberation Sans' font-size="11.4" fill="#111">modeled</text><text x="63.3" y="298.6" font-family='Liberation Sans' font-size="13" fill="#222">P</text><text x="245.3" y="228.8" font-family='Liberation Sans' font-size="13" fill="#222">P</text><text x="253" y="224" font-family='Liberation Sans' font-size="8" fill="#222">'</text><text x="393" y="195.4" font-family='Liberation Sans' font-size="13.5" fill="#333" text-anchor="middle">downslope slip</text><text x="394.6" y="211.7" font-family='Liberation Sans' font-size="13.6" fill="#333" text-anchor="middle">rate (cm/year)</text><circle cx="317.9" cy="229.4" r="4" fill="#e31a1c"/><text x="337.7" y="233.8" font-family='Liberation Sans' font-size="12.3" fill="#111">&lt; -3.5</text><circle cx="317.9" cy="247.5" r="4" fill="#e8741e"/><text x="334.3" y="251.9" font-family='Liberation Sans' font-size="12.3" fill="#111">-3.5 - -3</text><circle cx="317.9" cy="265.6" r="4" fill="#f2a525"/><text x="334.3" y="270.0" font-family='Liberation Sans' font-size="12.3" fill="#111">-3 - -2.5</text><circle cx="317.9" cy="283.9" r="4" fill="#f5f21e"/><text x="334.3" y="288.3" font-family='Liberation Sans' font-size="12.3" fill="#111">-2.5 - -2</text><circle cx="317.9" cy="302.0" r="4" fill="#b5e02a"/><text x="334.3" y="306.4" font-family='Liberation Sans' font-size="12.3" fill="#111">-2 - -1.5</text><circle cx="408.3" cy="229.4" r="4" fill="#9be22c"/><text x="425" y="233.8" font-family='Liberation Sans' font-size="12.3" fill="#111">-1.5 - -1</text><circle cx="408.3" cy="247.5" r="4" fill="#6cd830"/><text x="425" y="251.9" font-family='Liberation Sans' font-size="12.3" fill="#111">-1 - -0.5</text><circle cx="408.3" cy="265.6" r="4" fill="#22c825"/><text x="425" y="270.0" font-family='Liberation Sans' font-size="12.3" fill="#111">-0.5 - 0.5</text><circle cx="408.3" cy="283.9" r="4" fill="#5ccda6"/><text x="425" y="288.3" font-family='Liberation Sans' font-size="12.3" fill="#111">0.5 - 1</text><circle cx="408.3" cy="302.0" r="4" fill="#22b8ea"/><text x="428" y="306.4" font-family='Liberation Sans' font-size="12.3" fill="#111">&gt; 1</text><polygon points="315.4,457.8 378,405.5 499.4,436 442.6,487.5" fill="#fbfdf1"/><polygon points="357.1,470.0 359.5,465.3 365.8,465.3 381.7,467.7 402.3,470.8 418.1,474.0 423.7,480.4 422.9,487.5 418.9,493.8 410.2,496.5 389.6,497.0 375.4,493.8 364.3,489.0 356.3,482.0 355.5,475.6" fill="#fdd86a" stroke="#6e6a2a" stroke-width="0.7"/><polygon points="315.4,457.8 378,405.5 499.4,436 442.6,487.5" fill="#6fae4f" opacity=".34"/><polyline points="358.3,476 360.3,462.1 419.7,471.6 418.6,494" fill="none" stroke="#b89a78" stroke-width="1"/><polygon points="358.7,469.3 418.3,478.5 415.8,497 356.3,486.7" fill="none" stroke="#e03a20" stroke-width="1.3"/><line x1="369" y1="478.8" x2="385" y2="487" stroke="#e03a20" stroke-width="0.7"/><polygon points="388,488.6 383.6,484.3 383,489" fill="#e03a20"/><polygon points="362.9,428.7 376.0,427.0 403.2,429.8 422.8,433.5 439.1,440.7 443.5,449.4 435.9,461.4 420.6,465.8 398.8,467.9 381.4,465.8 364.0,458.1 354.2,447.2 354.8,438.5" fill="#a9d18e" stroke="#2b3a20" stroke-width="1"/><g stroke="#8aa070" stroke-width="0.5" opacity=".8"><line x1="354.5" y1="447" x2="357.5" y2="470"/><line x1="443.5" y1="449.4" x2="424.5" y2="480"/></g><line x1="315" y1="528" x2="315" y2="380" stroke="#000" stroke-width="1.8"/><polygon points="315,375.5 311.2,384 318.8,384" fill="#000"/><line x1="315.4" y1="457.8" x2="381" y2="399" stroke="#000" stroke-width="1.6"/><polygon points="386,394.8 376.5,398.5 381.5,404" fill="#000"/><line x1="315.4" y1="457.8" x2="470" y2="494.5" stroke="#000" stroke-width="1.6"/><polygon points="477,496.3 468.5,490.5 466.5,498.8" fill="#000"/><line x1="424.5" y1="470" x2="424.5" y2="487" stroke="#6a8a5a" stroke-width="0.8"/><polygon points="424.5,466.5 422.8,471 426.2,471" fill="#6a8a5a"/><line x1="424.5" y1="487" x2="424.5" y2="496" stroke="#000" stroke-width="0.8"/><polygon points="424.5,499.5 422.8,495 426.2,495" fill="#000"/><text x="320" y="396" font-family='Liberation Sans' font-size="10.5" fill="#111">Z</text><text x="369" y="398" font-family='Liberation Sans' font-size="10.5" fill="#111">Y</text><text x="476" y="488" font-family='Liberation Sans' font-size="10.5" fill="#111">X</text><text x="391" y="424" font-family='Liberation Sans' font-size="12.5" fill="#111">Landslide surface</text><text x="422" y="507.5" font-family='Liberation Sans' font-size="11.5" fill="#111">Depth</text><text transform="translate(332,503.5) rotate(9)" font-family='Liberation Sans' font-size="11.5" fill="#111">Slip surface</text><defs><clipPath id="cpc"><rect x="53.7" y="362.6" width="213.90000000000003" height="157.19999999999993"/></clipPath><filter id="blc" x="-10%" y="-10%" width="120%" height="120%"><feGaussianBlur stdDeviation="3"/></filter><filter id="blc2"><feGaussianBlur stdDeviation="1.2"/></filter><filter id="nzc" x="0" y="0" width="100%" height="100%" color-interpolation-filters="sRGB"><feTurbulence type="fractalNoise" baseFrequency="0.45" numOctaves="2" seed="7"/><feColorMatrix type="matrix" values="0.33 0.33 0.33 0 0  0.33 0.33 0.33 0 0  0.33 0.33 0.33 0 0  0 0 0 0 1"/></filter></defs><g clip-path="url(#cpc)"><rect x="53.7" y="362.6" width="213.90000000000003" height="157.19999999999993" fill="#8a8782"/><g filter="url(#blc)"><rect x="40" y="350" width="240" height="180" fill="#9b9793"/><path d="M40 350 L280 350 L280 393 L240 392 L200 393 L160 395 L120 397 L80 396 L40 396 Z" fill="#4f5159"/><ellipse cx="240" cy="380" rx="30" ry="9" fill="#71747d"/><path d="M40 397 L100 398 L118 400 L116 452 L96 458 L40 460 Z" fill="#8f918c"/><path d="M40 436 L96 434 L110 440 L100 456 L40 457 Z" fill="#c6c4be"/><path d="M110 406 L118 402 L120 454 L93 452 L93 440 L99 424 Z" fill="#d7d4cd"/><path d="M110 447 L230 444 L236 455 L200 462 L120 462 Z" fill="#cac7c0"/><path d="M206 393 L240 392 L280 394 L280 452 L240 454 L206 458 Z" fill="#bab7b0"/><path d="M206 398 L225 398 L232 420 L222 445 L206 450 Z" fill="#cdcac3"/><ellipse cx="112" cy="482" rx="15" ry="11" fill="#abaaa6"/><ellipse cx="152" cy="480" rx="16" ry="13" fill="#afadaa"/><path d="M178 492 L220 481 L267 470 L280 470 L280 497 L230 501 L180 506 Z" fill="#6a6e79"/><path d="M160 525 L181 507 L230 502 L280 499 L280 525 Z" fill="#807e83"/></g><rect x="53.7" y="362.6" width="213.90000000000003" height="157.19999999999993" filter="url(#nzc)" opacity=".5" style="mix-blend-mode:overlay"/><g transform="translate(116.7,401.4) rotate(-3)"><rect x="0.00" y="0.00" width="8.45" height="8.70" fill="#b40606"/><rect x="8.15" y="0.00" width="8.45" height="8.70" fill="#b40606"/><rect x="16.30" y="0.00" width="8.45" height="8.70" fill="#b40606"/><rect x="24.45" y="0.00" width="8.45" height="8.70" fill="#b40606"/><rect x="32.60" y="0.00" width="8.45" height="8.70" fill="#ef4010"/><rect x="40.75" y="0.00" width="8.45" height="8.70" fill="#fffbea"/><rect x="48.90" y="0.00" width="8.45" height="8.70" fill="#fffbea"/><rect x="57.05" y="0.00" width="8.45" height="8.70" fill="#fff01a"/><rect x="65.20" y="0.00" width="8.45" height="8.70" fill="#f59010"/><rect x="73.35" y="0.00" width="8.45" height="8.70" fill="#f59010"/><rect x="81.50" y="0.00" width="8.45" height="8.70" fill="#fffbea"/><rect x="0.00" y="8.40" width="8.45" height="8.70" fill="#fff01a"/><rect x="8.15" y="8.40" width="8.45" height="8.70" fill="#f59010"/><rect x="16.30" y="8.40" width="8.45" height="8.70" fill="#e00a0a"/><rect x="24.45" y="8.40" width="8.45" height="8.70" fill="#b40606"/><rect x="32.60" y="8.40" width="8.45" height="8.70" fill="#f59010"/><rect x="40.75" y="8.40" width="8.45" height="8.70" fill="#fff01a"/><rect x="48.90" y="8.40" width="8.45" height="8.70" fill="#f59010"/><rect x="57.05" y="8.40" width="8.45" height="8.70" fill="#fff01a"/><rect x="65.20" y="8.40" width="8.45" height="8.70" fill="#ffff88"/><rect x="73.35" y="8.40" width="8.45" height="8.70" fill="#fffbea"/><rect x="81.50" y="8.40" width="8.45" height="8.70" fill="#fffbea"/><rect x="0.00" y="16.80" width="8.45" height="8.70" fill="#fffbea"/><rect x="8.15" y="16.80" width="8.45" height="8.70" fill="#fff01a"/><rect x="16.30" y="16.80" width="8.45" height="8.70" fill="#e00a0a"/><rect x="24.45" y="16.80" width="8.45" height="8.70" fill="#b40606"/><rect x="32.60" y="16.80" width="8.45" height="8.70" fill="#e00a0a"/><rect x="40.75" y="16.80" width="8.45" height="8.70" fill="#fff01a"/><rect x="48.90" y="16.80" width="8.45" height="8.70" fill="#fff01a"/><rect x="57.05" y="16.80" width="8.45" height="8.70" fill="#fff01a"/><rect x="65.20" y="16.80" width="8.45" height="8.70" fill="#fff01a"/><rect x="73.35" y="16.80" width="8.45" height="8.70" fill="#ffff88"/><rect x="81.50" y="16.80" width="8.45" height="8.70" fill="#fff01a"/><rect x="0.00" y="25.20" width="8.45" height="8.70" fill="#fffbea"/><rect x="8.15" y="25.20" width="8.45" height="8.70" fill="#fff01a"/><rect x="16.30" y="25.20" width="8.45" height="8.70" fill="#f59010"/><rect x="24.45" y="25.20" width="8.45" height="8.70" fill="#e00a0a"/><rect x="32.60" y="25.20" width="8.45" height="8.70" fill="#f59010"/><rect x="40.75" y="25.20" width="8.45" height="8.70" fill="#fff01a"/><rect x="48.90" y="25.20" width="8.45" height="8.70" fill="#fff01a"/><rect x="57.05" y="25.20" width="8.45" height="8.70" fill="#ffff88"/><rect x="65.20" y="25.20" width="8.45" height="8.70" fill="#ffff88"/><rect x="73.35" y="25.20" width="8.45" height="8.70" fill="#fffbea"/><rect x="81.50" y="25.20" width="8.45" height="8.70" fill="#fff01a"/><rect x="0.00" y="33.60" width="8.45" height="8.70" fill="#fffbea"/><rect x="8.15" y="33.60" width="8.45" height="8.70" fill="#fff01a"/><rect x="16.30" y="33.60" width="8.45" height="8.70" fill="#f8b828"/><rect x="24.45" y="33.60" width="8.45" height="8.70" fill="#f59010"/><rect x="32.60" y="33.60" width="8.45" height="8.70" fill="#fff01a"/><rect x="40.75" y="33.60" width="8.45" height="8.70" fill="#fff01a"/><rect x="48.90" y="33.60" width="8.45" height="8.70" fill="#fffbea"/><rect x="57.05" y="33.60" width="8.45" height="8.70" fill="#fffbea"/><rect x="65.20" y="33.60" width="8.45" height="8.70" fill="#fffbea"/><rect x="73.35" y="33.60" width="8.45" height="8.70" fill="#fffbea"/><rect x="81.50" y="33.60" width="8.45" height="8.70" fill="#fff01a"/><rect x="0.00" y="42.00" width="8.45" height="8.70" fill="#fffbea"/><rect x="8.15" y="42.00" width="8.45" height="8.70" fill="#fff01a"/><rect x="16.30" y="42.00" width="8.45" height="8.70" fill="#fff01a"/><rect x="24.45" y="42.00" width="8.45" height="8.70" fill="#fff01a"/><rect x="32.60" y="42.00" width="8.45" height="8.70" fill="#fff01a"/><rect x="40.75" y="42.00" width="8.45" height="8.70" fill="#fff01a"/><rect x="48.90" y="42.00" width="8.45" height="8.70" fill="#fffbea"/><rect x="57.05" y="42.00" width="8.45" height="8.70" fill="#fffbea"/><rect x="65.20" y="42.00" width="8.45" height="8.70" fill="#fffbea"/><rect x="73.35" y="42.00" width="8.45" height="8.70" fill="#fffbea"/><rect x="81.50" y="42.00" width="8.45" height="8.70" fill="#fff01a"/><rect x="0.00" y="50.40" width="8.45" height="8.70" fill="#fffbea"/><rect x="8.15" y="50.40" width="8.45" height="8.70" fill="#fffbea"/><rect x="16.30" y="50.40" width="8.45" height="8.70" fill="#fffbea"/><rect x="24.45" y="50.40" width="8.45" height="8.70" fill="#fffbea"/><rect x="32.60" y="50.40" width="8.45" height="8.70" fill="#fffbea"/><rect x="40.75" y="50.40" width="8.45" height="8.70" fill="#fffbea"/><rect x="48.90" y="50.40" width="8.45" height="8.70" fill="#fffbea"/><rect x="57.05" y="50.40" width="8.45" height="8.70" fill="#fffbea"/><rect x="65.20" y="50.40" width="8.45" height="8.70" fill="#fffbea"/><rect x="73.35" y="50.40" width="8.45" height="8.70" fill="#fffbea"/><rect x="81.50" y="50.40" width="8.45" height="8.70" fill="#fffbea"/><rect x="0.00" y="58.80" width="8.45" height="8.70" fill="#fff01a"/><rect x="8.15" y="58.80" width="8.45" height="8.70" fill="#fffbea"/><rect x="16.30" y="58.80" width="8.45" height="8.70" fill="#fffbea"/><rect x="24.45" y="58.80" width="8.45" height="8.70" fill="#fffbea"/><rect x="32.60" y="58.80" width="8.45" height="8.70" fill="#fffbea"/><rect x="40.75" y="58.80" width="8.45" height="8.70" fill="#fffbea"/><rect x="48.90" y="58.80" width="8.45" height="8.70" fill="#fff01a"/><rect x="57.05" y="58.80" width="8.45" height="8.70" fill="#fff01a"/><rect x="65.20" y="58.80" width="8.45" height="8.70" fill="#fff01a"/><rect x="73.35" y="58.80" width="8.45" height="8.70" fill="#fffbea"/><rect x="81.50" y="58.80" width="8.45" height="8.70" fill="#e00a0a"/></g><path d="M50.0 513.5 C50.5 513.2 51.1 512.8 53.0 511.6 C54.9 510.4 58.7 508.6 61.5 506.3 C64.3 504.0 67.5 501.0 70.0 497.8 C72.5 494.6 74.5 490.4 76.3 487.2 C78.0 484.0 79.0 481.0 80.5 478.7 C82.0 476.4 83.5 474.9 85.0 473.5 C86.5 472.1 87.7 471.8 89.4 470.6 C91.1 469.4 93.5 467.8 95.2 466.3 C96.9 464.9 98.5 463.6 99.5 461.9 C100.5 460.2 101.0 457.6 101.0 456.0 C101.0 454.4 100.5 453.3 99.5 452.5 C98.5 451.7 96.4 451.5 95.2 451.0 C94.0 450.5 92.7 451.1 92.3 449.5 C91.9 447.9 92.4 444.3 93.0 441.5 C93.6 438.7 94.8 435.5 95.9 432.8 C97.0 430.1 97.9 428.2 99.5 425.5 C101.1 422.8 103.7 419.3 105.4 416.8 C107.2 414.3 108.7 412.4 110.0 410.5 C111.3 408.6 112.4 406.9 113.5 405.5 C114.6 404.1 115.4 402.8 116.5 401.8 C117.6 400.9 118.4 400.3 120.0 399.8 C121.6 399.3 122.7 399.2 126.0 398.8 C129.3 398.4 133.5 398.2 140.0 397.6 C146.5 397.0 158.3 395.8 165.0 395.3 C171.7 394.8 173.7 394.8 180.0 394.6 C186.3 394.4 196.5 394.1 202.8 394.0 C209.1 393.9 214.1 393.4 217.7 394.0 C221.3 394.6 222.4 396.0 224.2 397.3 C226.0 398.6 227.0 399.7 228.4 401.6 C229.8 403.6 231.4 406.3 232.7 409.0 C234.0 411.7 235.7 414.7 236.0 417.6 C236.3 420.5 236.1 423.0 234.8 426.2 C233.5 429.4 230.2 434.3 228.4 436.9 C226.6 439.5 227.0 439.4 224.2 442.0 C221.3 444.6 215.2 448.5 211.3 452.8 C207.4 457.1 203.8 462.8 200.6 467.8 C197.4 472.8 195.2 478.2 192.0 482.8 C188.8 487.4 185.0 491.7 181.4 495.6 C177.8 499.5 174.3 503.1 170.7 506.3 C167.1 509.5 162.6 512.8 160.0 514.9 C157.4 517.0 156.7 517.6 155.0 519.0 C153.3 520.4 150.8 522.3 150.0 523.0" fill="none" stroke="#050505" stroke-width="3.3" stroke-linejoin="round" stroke-linecap="round" stroke-dasharray="0 2.9"/><path d="M117.4 408 L116.6 430 L113.4 440.6 L110.2 451.2 L123 453.3 L140 444 L160 434.2 L182.7 425.4 L200 416.5 L205.5 408 L204.5 398" fill="none" stroke="#111" stroke-width="1" stroke-dasharray="3 2"/><g stroke="#d42a2a" stroke-width="1.8" stroke-dasharray="4 2.2"><line x1="117.4" y1="452.4" x2="154.4" y2="452.4"/><line x1="161" y1="435.2" x2="206.7" y2="435.2"/><line x1="213" y1="415.8" x2="230.6" y2="415.8"/></g><text x="61" y="372" font-family='Liberation Sans' font-size="9" font-weight="bold" fill="#fff" text-anchor="middle">N</text><path d="M61.5 374.3 L54.3 395.1 L61.4 388 Z" fill="#fff"/><path d="M61.5 374.3 L67.9 395.7 L61.4 388 Z" fill="none" stroke="#fff" stroke-width="0.9"/><rect x="213.2" y="511.4" width="41.7" height="5.1" fill="#fff"/><text x="233.4" y="507.2" font-family='Liberation Sans' font-size="8.3" font-weight="bold" fill="#fff" text-anchor="middle">200</text><text x="257.3" y="517" font-family='Liberation Sans' font-size="8.3" font-weight="bold" fill="#fff">m</text></g><rect x="53.7" y="362.6" width="213.90000000000003" height="157.19999999999993" fill="none" stroke="#555" stroke-width="0.6"/><line x1="88" y1="519.8" x2="88" y2="522" stroke="#555" stroke-width="0.6"/><line x1="153.3" y1="519.8" x2="153.3" y2="522" stroke="#555" stroke-width="0.6"/><line x1="218.6" y1="519.8" x2="218.6" y2="522" stroke="#555" stroke-width="0.6"/><line x1="53.7" y1="415.4" x2="51.5" y2="415.4" stroke="#555" stroke-width="0.6"/><line x1="53.7" y1="483" x2="51.5" y2="483" stroke="#555" stroke-width="0.6"/><text x="88" y="530.4" font-family='Liberation Sans' font-size="8" fill="#111" text-anchor="middle" textLength="41" lengthAdjust="spacingAndGlyphs">103°39'35&quot;E</text><text x="153.3" y="530.4" font-family='Liberation Sans' font-size="8" fill="#111" text-anchor="middle" textLength="41" lengthAdjust="spacingAndGlyphs">103°39'45&quot;E</text><text x="219.3" y="530.4" font-family='Liberation Sans' font-size="8" fill="#111" text-anchor="middle" textLength="41" lengthAdjust="spacingAndGlyphs">103°39'55&quot;E</text><text transform="translate(49.4,416) rotate(-90)" font-family='Liberation Sans' font-size="8" fill="#111" text-anchor="middle" textLength="34" lengthAdjust="spacingAndGlyphs">32°4'50&quot;N</text><text transform="translate(49.4,482) rotate(-90)" font-family='Liberation Sans' font-size="8" fill="#111" text-anchor="middle" textLength="34" lengthAdjust="spacingAndGlyphs">32°4'40&quot;N</text><defs><linearGradient id="cbg" x1="0" x2="1" y1="0" y2="0"><stop offset="0" stop-color="#fffffa"/><stop offset="0.22" stop-color="#fffbe0"/><stop offset="0.32" stop-color="#ffff40"/><stop offset="0.45" stop-color="#ffd400"/><stop offset="0.55" stop-color="#fba018"/><stop offset="0.69" stop-color="#f57a10"/><stop offset="0.695" stop-color="#ee1010"/><stop offset="0.82" stop-color="#d40000"/><stop offset="1" stop-color="#6a0000"/></linearGradient></defs><rect x="102.3" y="535" width="108.7" height="9.2" fill="url(#cbg)" stroke="#999" stroke-width="0.5"/><text x="157" y="542.6" font-family='Liberation Sans' font-size="8.4" fill="#3a2a00" text-anchor="middle">cm/year</text><text x="96" y="543" font-family='Liberation Sans' font-size="9.5" fill="#222" text-anchor="middle">0</text><text x="214.7" y="543" font-family='Liberation Sans' font-size="9.5" fill="#222">14.5</text></svg></body></html>
